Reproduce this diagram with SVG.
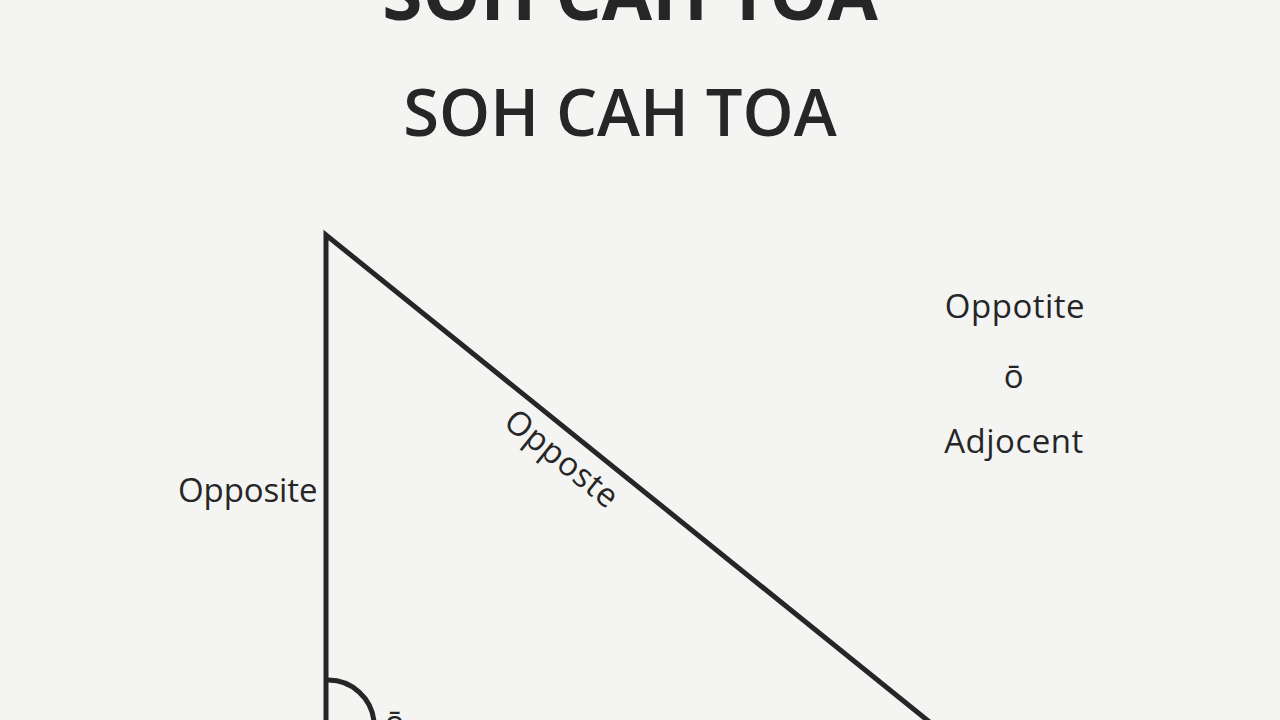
<svg xmlns="http://www.w3.org/2000/svg" width="1280" height="720" viewBox="0 0 1280 720">
<style>
.t{font-family:"Open Sans","Noto Sans",sans-serif;fill:#262626}
.title{font-weight:700}
.sub{font-weight:600}
.lbl{font-size:33px;font-weight:500;letter-spacing:0.5px}
.edge{stroke:#262626;stroke-width:5;fill:none;stroke-linejoin:miter}
</style>
<rect width="1280" height="720" fill="#f4f4f3"/>
<g id="title"><text class="t title" x="630" y="20" font-size="73" text-anchor="middle">SOH CAH TOA</text></g>
<g id="subtitle"><text class="t sub" x="620" y="136" font-size="65" text-anchor="middle">SOH CAH TOA</text></g>
<g id="connectors">
<path class="edge" d="M326,720 L326,235 L932,724"/>
<path class="edge" d="M328,680 A46,46 0 0 1 374,722"/>
</g>
<g id="label-left"><text class="t lbl" x="178" y="502" textLength="140">Opposite</text></g>
<g id="label-hyp"><text class="t lbl" transform="translate(502,425) rotate(38.8)">Opposte</text></g>
<g id="label-angle"><text class="t lbl" x="395" y="734" text-anchor="middle">ō</text></g>
<g id="ratio">
<text class="t lbl" x="1015" y="318" text-anchor="middle">Oppotite</text>
<text class="t lbl" x="1014" y="388" text-anchor="middle">ō</text>
<text class="t lbl" x="1014" y="453" text-anchor="middle">Adjocent</text>
</g>
</svg>
